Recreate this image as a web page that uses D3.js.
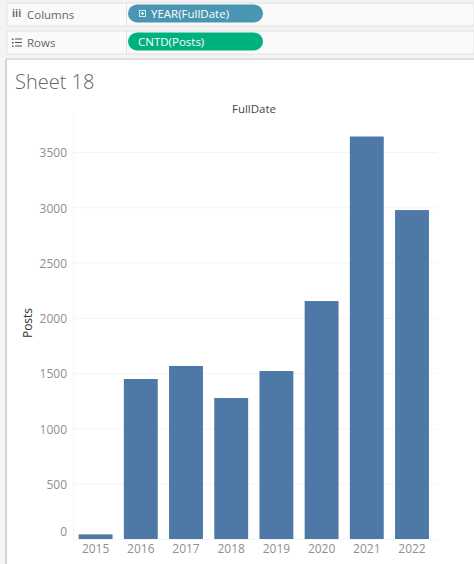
<!DOCTYPE html>
<html>
<head>
<meta charset="utf-8">
<script src="https://cdn.jsdelivr.net/npm/d3@7"></script>
<style>
  html, body { margin: 0; padding: 0; background: #fff; overflow: hidden; }
  text { font-family: "Open Sans", sans-serif; }
</style>
</head>
<body>
<script>
const years = ["2015", "2016", "2017", "2018", "2019", "2020", "2021", "2022"];
const posts = [42, 1447, 1565, 1275, 1519, 2152, 3640, 2975];
const yTicks = [0, 500, 1000, 1500, 2000, 2500, 3000, 3500];

var svg = d3.select("body").append("svg")
    .attr("width", 474)
    .attr("height", 564);

// Shelf chrome
svg.append("rect").attr("width", 474).attr("height", 564).attr("fill", "#fff");
svg.append("rect").attr("width", 474).attr("height", 58).attr("fill", "#f3f3f3");
svg.append("rect").attr("x", 0).attr("y", 58).attr("width", 6).attr("height", 506).attr("fill", "#f6f6f6");
svg.append("rect").attr("x", 6).attr("y", 59).attr("width", 468).attr("height", 505).attr("fill", "#fff");
svg.append("line").attr("x1", 6).attr("x2", 474).attr("y1", 59).attr("y2", 59).attr("stroke", "#d4d4d4").attr("stroke-width", 1.5);
svg.append("line").attr("x1", 6).attr("x2", 6).attr("y1", 59).attr("y2", 564).attr("stroke", "#c8c8c8").attr("stroke-width", 1.5);

var shelves = [
    {label: "Columns", y: 3, pill: "YEAR(FullDate)", color: "#4996b2", plus: true},
    {label: "Rows", y: 31, pill: "CNTD(Posts)", color: "#00b180", plus: false}
];
shelves.forEach(function(s) {
    svg.append("rect").attr("x", 7).attr("y", s.y).attr("width", 467).attr("height", 23)
        .attr("fill", "#fafafa").attr("stroke", "#e2e2e2");
    svg.append("line").attr("x1", 126.5).attr("x2", 126.5).attr("y1", s.y).attr("y2", s.y + 23).attr("stroke", "#e2e2e2");
    svg.append("text").attr("x", 27).attr("y", s.y + 15.5)
        .style("font-size", "11.5px").attr("fill", "#666").text(s.label);
    svg.append("rect").attr("x", 128).attr("y", s.y + 1.5).attr("width", 135).attr("height", 18)
        .attr("rx", 9).attr("fill", s.color);
    svg.append("text").attr("x", s.plus ? 151 : 138).attr("y", s.y + 15)
        .style("font-size", "11.5px").style("font-weight", 500).attr("fill", "#fff").text(s.pill);
});

// Shelf icons
svg.append("text").attr("x", 12).attr("y", 17).style("font-size", "11px").style("font-weight", 600)
    .attr("fill", "#555").text("iii");
[39, 42.5, 46].forEach(function(y) {
    svg.append("line").attr("x1", 15).attr("x2", 22).attr("y1", y).attr("y2", y).attr("stroke", "#555");
    svg.append("rect").attr("x", 12).attr("y", y - 0.5).attr("width", 1.5).attr("height", 1.5).attr("fill", "#555");
});
svg.append("rect").attr("x", 139.5).attr("y", 10.5).attr("width", 6).attr("height", 6).attr("fill", "none").attr("stroke", "#fff").attr("stroke-opacity", 0.8);
svg.append("path").attr("d", "M141 13.5h3M142.5 12v3").attr("stroke", "#fff");

svg.append("text").attr("x", 15).attr("y", 89)
    .style("font-size", "20px").style("font-weight", 300).attr("fill", "#666").text("Sheet 18");

// Scales
var x = d3.scaleBand()
    .domain(years)
    .range([73, 434.6])
    .paddingInner(0.25)
    .paddingOuter(0.125);

var y = d3.scaleLinear()
    .domain([0, 3500])
    .range([539, 152]);

// Gridlines
svg.append("g")
    .attr("transform", "translate(73,0)")
    .call(d3.axisLeft(y).tickValues(yTicks).tickSize(-364).tickFormat(""))
    .call(function(g) { g.select(".domain").remove(); })
    .selectAll("line")
    .attr("stroke", "#f4f4f4");

svg.append("line").attr("x1", 73.5).attr("x2", 73.5).attr("y1", 115).attr("y2", 540).attr("stroke", "#f6f6f6");

// Bars
svg.selectAll(".bar")
    .data(posts)
    .enter().append("rect")
    .attr("class", "bar")
    .attr("x", function(d, i) { return x(years[i]); })
    .attr("width", x.bandwidth())
    .attr("y", function(d) { return y(d); })
    .attr("height", function(d) { return y(0) - y(d); })
    .attr("fill", "#4e79a7");

// Axes
var yAxis = svg.append("g")
    .attr("transform", "translate(73,1)")
    .call(d3.axisLeft(y).tickValues(yTicks).tickSize(0).tickPadding(6).tickFormat(d3.format("d")));
yAxis.select(".domain").remove();
yAxis.selectAll("text").style("font-size", "12px").attr("fill", "#8f8f8f");
// the 0 label sits above the baseline, like Tableau keeps it inside the view
yAxis.selectAll("text").filter(function(d) { return d === 0; }).attr("dy", "-0.35em");

var xAxis = svg.append("g")
    .attr("transform", "translate(0,540)")
    .call(d3.axisBottom(x).tickSize(0).tickPadding(4));
xAxis.select(".domain").remove();
xAxis.selectAll("text").style("font-size", "12px").attr("fill", "#8f8f8f");

svg.append("text").attr("x", 254).attr("y", 113).attr("text-anchor", "middle")
    .style("font-size", "11.5px").attr("fill", "#444").text("FullDate");

svg.append("text").attr("transform", "translate(32,323) rotate(-90)").attr("text-anchor", "middle")
    .style("font-size", "12px").attr("fill", "#333").text("Posts");
</script>
</body>
</html>
